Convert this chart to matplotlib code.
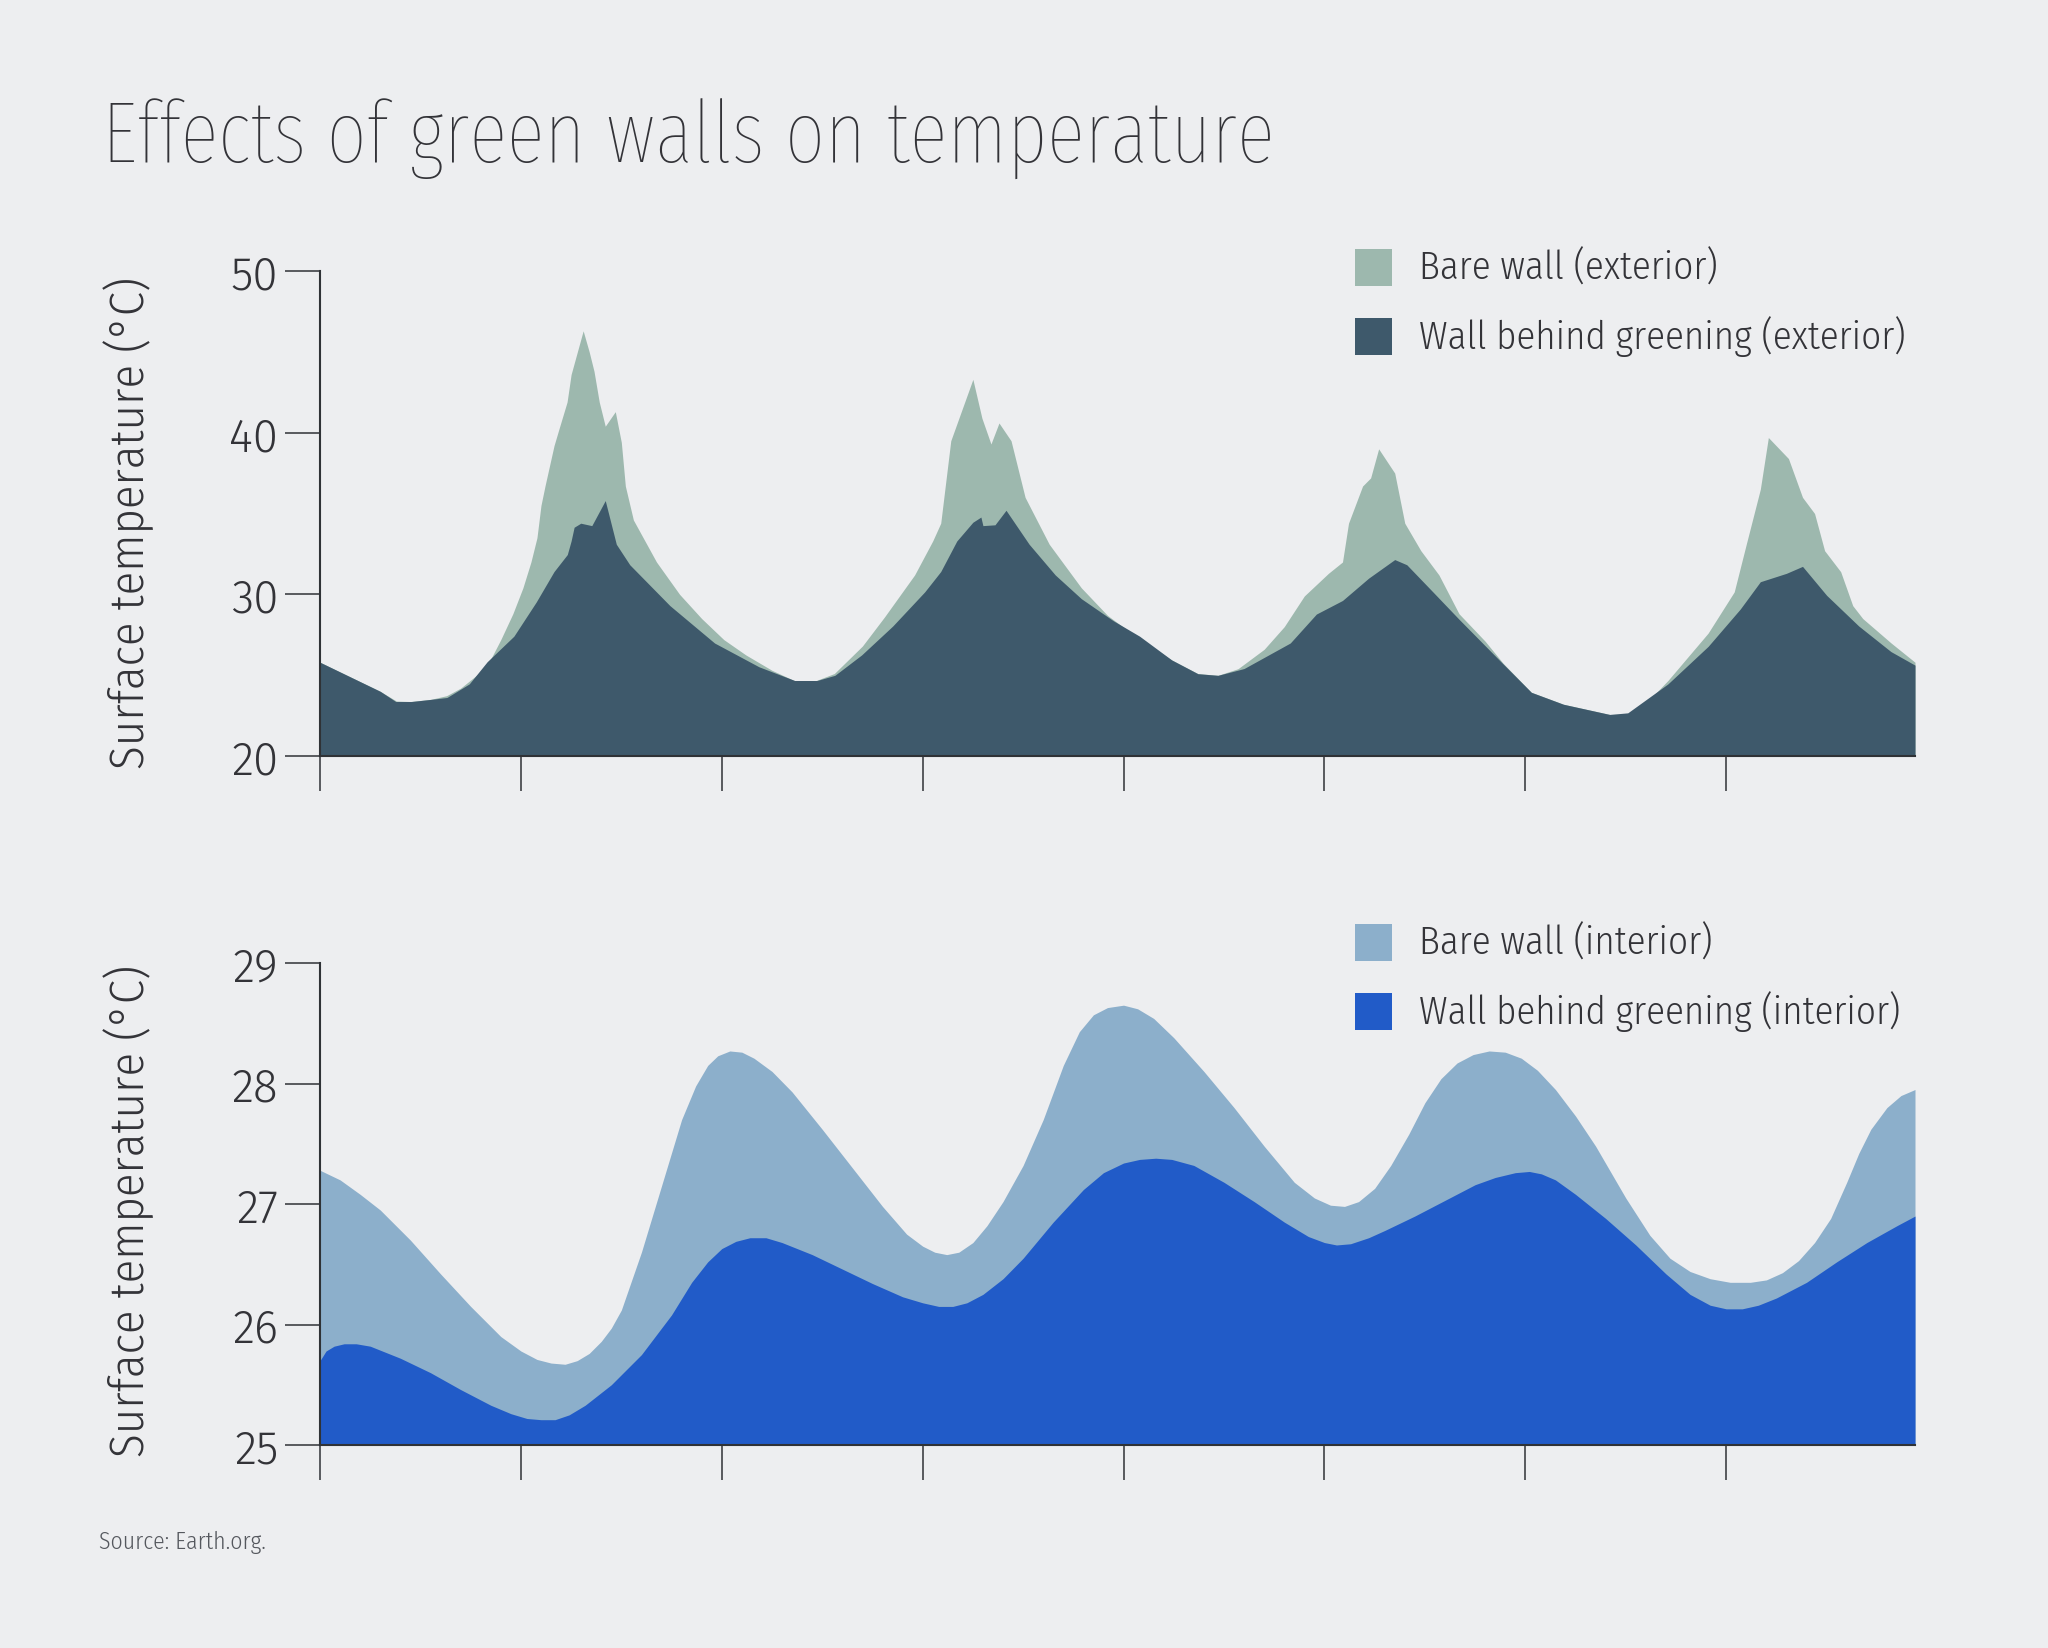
import matplotlib
matplotlib.use("Agg")
import matplotlib.pyplot as plt
from matplotlib.patches import Rectangle

# ── Colours ───────────────────────────────────────────────────────────
C_BG = "#EDEEF0"
C_TEXT = "#333338"
C_AXIS = "#2F3236"
C_BARE_EXT = "#9DB8AE"
C_GREEN_EXT = "#3E596B"
C_BARE_INT = "#8CAFCB"
C_GREEN_INT = "#215BC8"

FONT = "Fira Sans Condensed"
FONT_TITLE = "Fira Sans Extra Condensed"
FONT_TICK = "Fira Sans"

# ── Data (days on x, °C on y) ─────────────────────────────────────────
bare_ext_day = [0.00, 0.10, 0.20, 0.30, 0.38, 0.45, 0.55, 0.63, 0.70, 0.79, 0.85, 0.90,
                0.96, 1.01, 1.05, 1.08, 1.10, 1.12, 1.165, 1.19, 1.23, 1.25, 1.31, 1.34,
                1.364, 1.39, 1.42, 1.47, 1.50, 1.52, 1.56, 1.675, 1.79, 1.90, 2.01, 2.12,
                2.25, 2.36, 2.47, 2.56, 2.70, 2.81, 2.96, 3.05, 3.09, 3.14, 3.25, 3.295,
                3.34, 3.38, 3.44, 3.51, 3.63, 3.79, 3.92, 4.05, 4.24, 4.37, 4.47, 4.57,
                4.70, 4.80, 4.90, 5.02, 5.09, 5.12, 5.19, 5.23, 5.27, 5.35, 5.40, 5.48,
                5.57, 5.67, 5.80, 5.89, 6.03, 6.19, 6.42, 6.55, 6.71, 6.91, 7.04, 7.10,
                7.17, 7.21, 7.31, 7.38, 7.44, 7.49, 7.57, 7.63, 7.68, 7.82, 7.94]
bare_ext_temp = [25.8, 25.2, 24.6, 24.0, 23.4, 23.37, 23.5, 23.73, 24.2, 25.1, 26.0, 27.2,
                 28.8, 30.4, 32.0, 33.5, 35.5, 36.7, 39.2, 40.25, 41.9, 43.6, 46.3, 45.0,
                 43.8, 41.9, 40.4, 41.3, 39.4, 36.7, 34.6, 32.0, 30.0, 28.5, 27.2, 26.25,
                 25.3, 24.67, 24.67, 25.1, 26.8, 28.6, 31.2, 33.3, 34.4, 39.5, 43.3, 40.9,
                 39.3, 40.6, 39.5, 36.0, 33.1, 30.4, 28.7, 27.5, 25.94, 25.1, 24.99, 25.4,
                 26.6, 28.0, 29.9, 31.3, 32.0, 34.4, 36.7, 37.2, 39.0, 37.5, 34.4, 32.7,
                 31.2, 28.8, 27.1, 25.73, 23.94, 23.2, 22.57, 22.6, 24.67, 27.6, 30.15, 33.1,
                 36.5, 39.7, 38.4, 36.0, 35.0, 32.7, 31.4, 29.3, 28.5, 27.0, 25.8]

green_ext_day = [0.00, 0.10, 0.20, 0.30, 0.377, 0.455, 0.55, 0.632, 0.743, 0.832, 0.965,
                 1.076, 1.165, 1.231, 1.25, 1.265, 1.298, 1.353, 1.42, 1.475, 1.542,
                 1.742, 1.964, 2.185, 2.363, 2.474, 2.563, 2.696, 2.851, 3.01, 3.09, 3.17,
                 3.25, 3.29, 3.30, 3.36, 3.415, 3.53, 3.66, 3.79, 3.95, 4.08, 4.24, 4.37,
                 4.47, 4.60, 4.83, 4.96, 5.09, 5.22, 5.35, 5.41, 5.54, 5.67, 5.87, 6.03,
                 6.19, 6.42, 6.51, 6.71, 6.91, 7.07, 7.17, 7.30, 7.38, 7.50, 7.66, 7.82, 7.94]
green_ext_temp = [25.8, 25.2, 24.6, 24.0, 23.37, 23.37, 23.5, 23.62, 24.46, 25.83, 27.41,
                  29.52, 31.41, 32.46, 33.3, 34.15, 34.4, 34.25, 35.8, 33.1, 31.83,
                  29.3, 26.99, 25.52, 24.67, 24.67, 24.99, 26.25, 28.04, 30.15, 31.41, 33.3,
                  34.46, 34.78, 34.25, 34.3, 35.2, 33.1, 31.2, 29.73, 28.36, 27.41, 25.94, 25.09,
                  24.99, 25.41, 26.99, 28.78, 29.62, 31.0, 32.15, 31.83, 30.15, 28.46, 25.94, 23.94,
                  23.2, 22.57, 22.67, 24.46, 26.78, 29.09, 30.78, 31.3, 31.73, 29.94, 28.04, 26.46, 25.62]

bare_int_day = [0.00, 0.10, 0.20, 0.30, 0.45, 0.60, 0.75, 0.90, 1.00, 1.08, 1.15, 1.22,
                1.28, 1.34, 1.40, 1.45, 1.50, 1.60, 1.70, 1.80, 1.87, 1.93, 1.98, 2.04,
                2.10, 2.16, 2.25, 2.35, 2.50, 2.65, 2.80, 2.92, 3.00, 3.06, 3.12, 3.18,
                3.25, 3.32, 3.40, 3.50, 3.60, 3.70, 3.78, 3.85, 3.92, 4.00, 4.07, 4.15,
                4.25, 4.40, 4.55, 4.70, 4.85, 4.95, 5.03, 5.10, 5.17, 5.25, 5.33, 5.42,
                5.50, 5.58, 5.66, 5.74, 5.82, 5.90, 5.98, 6.06, 6.15, 6.25, 6.35, 6.50,
                6.62, 6.72, 6.82, 6.92, 7.02, 7.12, 7.20, 7.28, 7.36, 7.44, 7.52, 7.60,
                7.66, 7.72, 7.80, 7.87, 7.94]
bare_int_temp = [27.28, 27.20, 27.08, 26.95, 26.70, 26.42, 26.15, 25.90, 25.78, 25.71, 25.68, 25.67,
                 25.70, 25.76, 25.86, 25.97, 26.12, 26.60, 27.15, 27.70, 27.98, 28.15, 28.23, 28.27,
                 28.26, 28.21, 28.10, 27.93, 27.62, 27.30, 26.98, 26.75, 26.65, 26.60, 26.58, 26.60,
                 26.68, 26.82, 27.02, 27.32, 27.70, 28.15, 28.43, 28.57, 28.63, 28.65, 28.62, 28.54,
                 28.38, 28.10, 27.80, 27.48, 27.18, 27.05, 26.99, 26.98, 27.02, 27.13, 27.32, 27.58,
                 27.84, 28.04, 28.17, 28.24, 28.27, 28.26, 28.21, 28.11, 27.95, 27.73, 27.48, 27.05,
                 26.74, 26.55, 26.44, 26.38, 26.35, 26.35, 26.37, 26.43, 26.53, 26.68, 26.88, 27.18,
                 27.42, 27.62, 27.80, 27.90, 27.95]

green_int_day = [0.00, 0.03, 0.07, 0.12, 0.18, 0.25, 0.40, 0.55, 0.70, 0.85, 0.95, 1.03,
                 1.10, 1.17, 1.24, 1.32, 1.45, 1.60, 1.75, 1.85, 1.93, 2.00, 2.07, 2.14,
                 2.22, 2.30, 2.45, 2.60, 2.75, 2.90, 3.00, 3.08, 3.15, 3.22, 3.30, 3.40,
                 3.50, 3.65, 3.80, 3.90, 4.00, 4.08, 4.16, 4.24, 4.35, 4.50, 4.65, 4.80,
                 4.92, 5.00, 5.06, 5.13, 5.22, 5.30, 5.45, 5.60, 5.75, 5.85, 5.95, 6.02,
                 6.08, 6.15, 6.25, 6.40, 6.55, 6.70, 6.82, 6.92, 7.00, 7.08, 7.16, 7.25,
                 7.40, 7.55, 7.70, 7.85, 7.94]
green_int_temp = [25.70, 25.78, 25.82, 25.84, 25.84, 25.82, 25.72, 25.60, 25.46, 25.33, 25.26, 25.22,
                  25.21, 25.21, 25.25, 25.33, 25.50, 25.75, 26.08, 26.35, 26.52, 26.63, 26.69, 26.72,
                  26.72, 26.68, 26.58, 26.46, 26.34, 26.23, 26.18, 26.15, 26.15, 26.18, 26.25, 26.38,
                  26.55, 26.85, 27.12, 27.26, 27.34, 27.37, 27.38, 27.37, 27.32, 27.18, 27.02, 26.85,
                  26.73, 26.68, 26.66, 26.67, 26.72, 26.78, 26.90, 27.03, 27.16, 27.22, 27.26, 27.27,
                  27.25, 27.20, 27.08, 26.88, 26.66, 26.42, 26.25, 26.16, 26.13, 26.13, 26.16, 26.22,
                  26.35, 26.52, 26.68, 26.82, 26.90]

day_ticks = [0, 1, 2, 3, 4, 5, 6, 7]
ext_ticks = [20, 30, 40, 50]
int_ticks = [25, 26, 27, 28, 29]

TITLE = "Effects of green walls on temperature"
YLABEL = "Surface temperature (°C)"
SOURCE = "Source: Earth.org."

# ── Figure ────────────────────────────────────────────────────────────
W, H = 2048, 1649
fig = plt.figure(figsize=(W / 100, H / 100), dpi=100, facecolor=C_BG)


def px_axes(x0, y0, x1, y1):
    """Axes from pixel box (top-left origin)."""
    return fig.add_axes([x0 / W, 1 - y1 / H, (x1 - x0) / W, (y1 - y0) / H])


def style_ax(ax, yticks, ylim, label_y):
    ax.set_facecolor("none")
    ax.set_xlim(0, 7.94)
    ax.set_ylim(*ylim)
    ax.set_xticks(day_ticks)
    ax.set_xticklabels([])
    ax.set_yticks(yticks)
    ax.set_yticklabels([str(t) for t in yticks], family=FONT_TICK, fontweight=300,
                       fontsize=33, color=C_TEXT)
    for s in ("top", "right"):
        ax.spines[s].set_visible(False)
    for s in ("left", "bottom"):
        ax.spines[s].set_color(C_AXIS)
        ax.spines[s].set_linewidth(1.5)
        ax.spines[s].set_zorder(5)
    ax.tick_params(length=25, width=1.1, color=C_AXIS, pad=5)
    ax.set_ylabel(YLABEL, family=FONT, fontweight=300, fontsize=35, color=C_TEXT)
    ax.yaxis.set_label_coords(-0.104, label_y)


def legend(entries, y_centers):
    for (label, color), yc in zip(entries, y_centers):
        fig.patches.append(Rectangle((1355 / W, 1 - (yc + 18.5) / H), 37 / W, 37 / H,
                                     transform=fig.transFigure, facecolor=color,
                                     edgecolor="none"))
        fig.text(1419 / W, 1 - yc / H, label, family=FONT, fontweight=300, fontsize=28,
                 color=C_TEXT, va="center", ha="left")


# top panel — exterior
ax1 = px_axes(320, 272, 1915, 757)
ax1.fill_between(bare_ext_day, 20, bare_ext_temp, color=C_BARE_EXT, lw=0)
ax1.fill_between(green_ext_day, 20, green_ext_temp, color=C_GREEN_EXT, lw=0)
style_ax(ax1, ext_ticks, (20, 50), 0.482)

# bottom panel — interior
ax2 = px_axes(320, 964, 1915, 1446)
ax2.fill_between(bare_int_day, 25, bare_int_temp, color=C_BARE_INT, lw=0)
ax2.fill_between(green_int_day, 25, green_int_temp, color=C_GREEN_INT, lw=0)
style_ax(ax2, int_ticks, (25, 29), 0.488)

legend([("Bare wall (exterior)", C_BARE_EXT),
        ("Wall behind greening (exterior)", C_GREEN_EXT)], [268, 337])
legend([("Bare wall (interior)", C_BARE_INT),
        ("Wall behind greening (interior)", C_GREEN_INT)], [943, 1012])

fig.text(102 / W, 1 - 163 / H, TITLE, family=FONT_TITLE, fontweight=250, fontsize=62,
         color=C_TEXT, va="baseline", ha="left")
fig.text(99 / W, 1 - 1542 / H, SOURCE, family=FONT, fontweight=300, fontsize=17,
         color="#55585E", va="center", ha="left")

fig.savefig("out.png", dpi=100, facecolor=C_BG)
